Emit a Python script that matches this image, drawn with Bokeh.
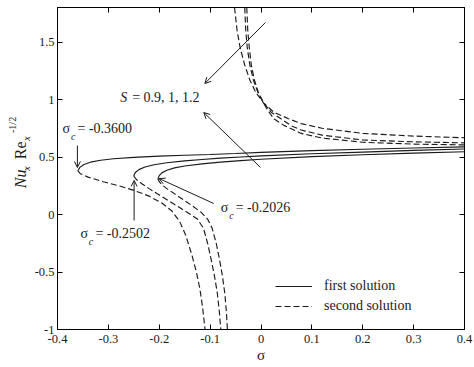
import numpy as np
from bokeh.plotting import figure
from bokeh.layouts import row
from bokeh.models import (Range1d, LinearAxis, FixedTicker, Label, Arrow, OpenHead,
                          Legend, LegendItem, Grid)
from bokeh.embed import file_html
from bokeh.resources import INLINE

# ---------------- data ----------------
x_ticks = [-0.4, -0.3, -0.2, -0.1, 0, 0.1, 0.2, 0.3, 0.4]
x_tick_labels = ["-0.4", "-0.3", "-0.2", "-0.1", "0", "0.1", "0.2", "0.3", "0.4"]
y_ticks = [-1, -0.5, 0, 0.5, 1, 1.5]
y_tick_labels = ["-1", "-0.5", "0", "0.5", "1", "1.5"]

s_values = [1.2, 1.0, 0.9]
sigma_c_values = [-0.3600, -0.2502, -0.2026]

# S = 1.2 (sigma_c = -0.3600)
sig_first_12 = [-0.360, -0.356, -0.348, -0.335, -0.315, -0.29, -0.25, -0.2, -0.15, -0.1, -0.05, 0.0, 0.1, 0.2, 0.3, 0.4]
nu_first_12 = [0.380, 0.41, 0.435, 0.455, 0.472, 0.485, 0.497, 0.507, 0.515, 0.522, 0.530, 0.540, 0.555, 0.567, 0.578, 0.588]
sig_second_low_12 = [-0.360, -0.355, -0.34, -0.31, -0.28, -0.25, -0.22, -0.195, -0.175, -0.16, -0.148, -0.136, -0.127, -0.12, -0.115, -0.11]
nu_second_low_12 = [0.380, 0.355, 0.325, 0.285, 0.25, 0.21, 0.16, 0.10, 0.03, -0.06, -0.18, -0.35, -0.5, -0.65, -0.8, -1.0]
sig_second_up_12 = [-0.052, -0.047, -0.041, -0.032, -0.022, -0.01, 0.005, 0.025, 0.054, 0.079, 0.12, 0.2, 0.3, 0.4]
nu_second_up_12 = [1.8, 1.6, 1.45, 1.3, 1.17, 1.06, 0.97, 0.89, 0.833, 0.79, 0.75, 0.705, 0.682, 0.667]

# S = 1 (sigma_c = -0.2502)
sig_first_10 = [-0.2502, -0.247, -0.24, -0.228, -0.21, -0.185, -0.15, -0.116, -0.08, -0.04, 0.0, 0.1, 0.2, 0.3, 0.4]
nu_first_10 = [0.335, 0.365, 0.39, 0.413, 0.433, 0.45, 0.466, 0.478, 0.49, 0.5, 0.51, 0.528, 0.543, 0.557, 0.57]
sig_second_low_10 = [-0.2502, -0.245, -0.235, -0.22, -0.2, -0.18, -0.16, -0.14, -0.125, -0.113, -0.105, -0.099, -0.092, -0.086, -0.082, -0.079]
nu_second_low_10 = [0.335, 0.305, 0.27, 0.225, 0.17, 0.115, 0.06, 0.005, -0.04, -0.12, -0.25, -0.37, -0.52, -0.68, -0.84, -1.0]
sig_second_up_10 = [-0.032, -0.03, -0.027, -0.022, -0.015, -0.006, 0.005, 0.02, 0.04, 0.06, 0.079, 0.12, 0.2, 0.3, 0.4]
nu_second_up_10 = [1.8, 1.6, 1.45, 1.3, 1.17, 1.06, 0.97, 0.89, 0.83, 0.77, 0.735, 0.69, 0.648, 0.632, 0.623]

# S = 0.9 (sigma_c = -0.2026)
sig_first_09 = [-0.2026, -0.2, -0.195, -0.185, -0.17, -0.15, -0.116, -0.08, -0.04, 0.0, 0.1, 0.2, 0.3, 0.4]
nu_first_09 = [0.31, 0.338, 0.362, 0.385, 0.405, 0.422, 0.44, 0.455, 0.468, 0.48, 0.503, 0.52, 0.534, 0.546]
sig_second_low_09 = [-0.2026, -0.2, -0.194, -0.185, -0.17, -0.153, -0.135, -0.118, -0.105, -0.096, -0.088, -0.082, -0.076, -0.071, -0.068, -0.066]
nu_second_low_09 = [0.31, 0.285, 0.255, 0.225, 0.18, 0.13, 0.075, 0.02, -0.04, -0.12, -0.25, -0.38, -0.53, -0.69, -0.85, -1.0]
sig_second_up_09 = [-0.028, -0.026, -0.023, -0.019, -0.013, -0.005, 0.005, 0.014, 0.026, 0.045, 0.079, 0.12, 0.2, 0.3, 0.4]
nu_second_up_09 = [1.8, 1.6, 1.45, 1.3, 1.17, 1.06, 0.97, 0.9, 0.83, 0.775, 0.705, 0.665, 0.628, 0.612, 0.605]

# ---------------- styling ----------------
FONT = "Liberation Serif"
INK = "#1a1a1a"
LW = 1.15
DASH = "6 3"
LEFT_PANEL = 31

p = figure(frame_width=407, frame_height=322,
           x_range=Range1d(-0.4, 0.4), y_range=Range1d(-1, 1.8),
           output_backend="svg", toolbar_location=None,
           x_axis_location=None, y_axis_location=None,
           min_border_left=55 - LEFT_PANEL, min_border_right=12, min_border_top=7, min_border_bottom=38)
p.outline_line_color = "black"
p.outline_line_width = 1
p.background_fill_color = "white"
p.border_fill_color = "white"


def make_axis(ticks, labels, show, standoff=5):
    ax = LinearAxis(ticker=FixedTicker(ticks=ticks))
    ax.major_tick_in = 5
    ax.major_tick_out = 0
    ax.minor_tick_line_color = None
    ax.axis_line_color = "black"
    ax.major_tick_line_color = "black"
    ax.major_label_text_font = FONT
    ax.major_label_text_color = INK
    if show:
        ax.major_label_overrides = {t: l for t, l in zip(ticks, labels)}
        ax.major_label_text_font_size = "12.5px"
        ax.major_label_standoff = standoff
    else:
        ax.major_label_overrides = {t: "" for t in ticks}
        ax.major_label_text_font_size = "0px"
        ax.major_label_standoff = 0
    return ax


x_axis = make_axis(x_ticks, x_tick_labels, True)
x_axis.axis_label = "σ"
x_axis.axis_label_text_font = FONT
x_axis.axis_label_text_font_size = "15px"
x_axis.axis_label_text_font_style = "normal"
x_axis.axis_label_text_color = INK
x_axis.axis_label_standoff = 1
p.add_layout(x_axis, "below")
p.add_layout(make_axis(x_ticks, x_tick_labels, False), "above")
p.add_layout(make_axis(y_ticks, y_tick_labels, True, standoff=3), "left")
p.add_layout(make_axis(y_ticks, y_tick_labels, False), "right")

first_sets = [(sig_first_12, nu_first_12), (sig_first_10, nu_first_10), (sig_first_09, nu_first_09)]
second_sets = [(sig_second_low_12, nu_second_low_12), (sig_second_low_10, nu_second_low_10),
               (sig_second_low_09, nu_second_low_09), (sig_second_up_12, nu_second_up_12),
               (sig_second_up_10, nu_second_up_10), (sig_second_up_09, nu_second_up_09)]

first_renderers = [p.line(xs, ys, line_color=INK, line_width=LW) for xs, ys in first_sets]
second_renderers = [p.line(xs, ys, line_color=INK, line_width=LW, line_dash=DASH) for xs, ys in second_sets]

# ---------------- legend ----------------
legend = Legend(items=[LegendItem(label="first solution", renderers=[first_renderers[0]]),
                       LegendItem(label="second solution", renderers=[second_renderers[0]])],
                location=(218, 13), padding=0, margin=0, spacing=0,
                glyph_width=37, glyph_height=20, label_height=20, label_standoff=12,
                border_line_color=None, background_fill_alpha=0,
                label_text_font=FONT, label_text_font_size="14px", label_text_color=INK)
p.add_layout(legend)


# ---------------- annotations ----------------
def lab(fig, x, y, text, size="14px", style="normal", align="left", baseline="middle", angle=0.0):
    fig.add_layout(Label(x=x, y=y, text=text, text_font=FONT, text_font_size=size,
                         text_font_style=style, text_color=INK, text_align=align,
                         text_baseline=baseline, angle=angle))


def arrow(x0, y0, x1, y1):
    p.add_layout(Arrow(end=OpenHead(size=6, line_width=1, line_color=INK),
                       x_start=x0, y_start=y0, x_end=x1, y_end=y1,
                       line_width=1, line_color=INK))


# S label and its arrows
lab(p, -0.2768, 1.017, "S", style="italic")
lab(p, -0.2533, 1.017, "= 0.9, 1, 1.2")
arrow(0.0088, 1.670, -0.1105, 1.139)
arrow(-0.001, 0.409, -0.1125, 0.887)

# sigma_c labels
crit_label_pos = [(-0.3902, 0.748), (-0.355, -0.165), (-0.0792, 0.061)]
crit_arrows = [(-0.3609, 0.600, -0.3609, 0.409), (-0.2494, -0.052, -0.2494, 0.296),
               (-0.0929, 0.0956, -0.2005, 0.313)]
for (lx, ly), sc in zip(crit_label_pos, sigma_c_values):
    lab(p, lx, ly, "σ")
    lab(p, lx + 0.0166, ly - 0.07, "c", size="10px", style="italic")
    lab(p, lx + 0.0295, ly, "= %.4f" % sc)
for a in crit_arrows:
    arrow(*a)

# ---------------- y-axis title panel ----------------
lf = figure(width=LEFT_PANEL, height=367, x_range=Range1d(0, LEFT_PANEL), y_range=Range1d(367, 0),
            output_backend="svg", toolbar_location=None,
            x_axis_location=None, y_axis_location=None, min_border=0)
lf.outline_line_color = None
lf.background_fill_color = "white"
lf.border_fill_color = "white"
for fig in (lf, p):
    for r in fig.renderers + fig.center:
        if isinstance(r, Grid):
            r.visible = False
    fig.xgrid.grid_line_color = None
    fig.ygrid.grid_line_color = None

ang = np.pi / 2
lab(lf, 20, 206, "Nu", size="16px", style="italic", baseline="alphabetic", angle=ang)
lab(lf, 26, 186, "x", size="10px", style="italic", baseline="alphabetic", angle=ang)
lab(lf, 20, 173, "Re", size="16px", baseline="alphabetic", angle=ang)
lab(lf, 26, 152, "x", size="10px", style="italic", baseline="alphabetic", angle=ang)
lab(lf, 12, 143, "-1/2", size="10px", baseline="alphabetic", angle=ang)

layout = row(lf, p, spacing=0)
open("out.html", "w").write(file_html(layout, INLINE))
